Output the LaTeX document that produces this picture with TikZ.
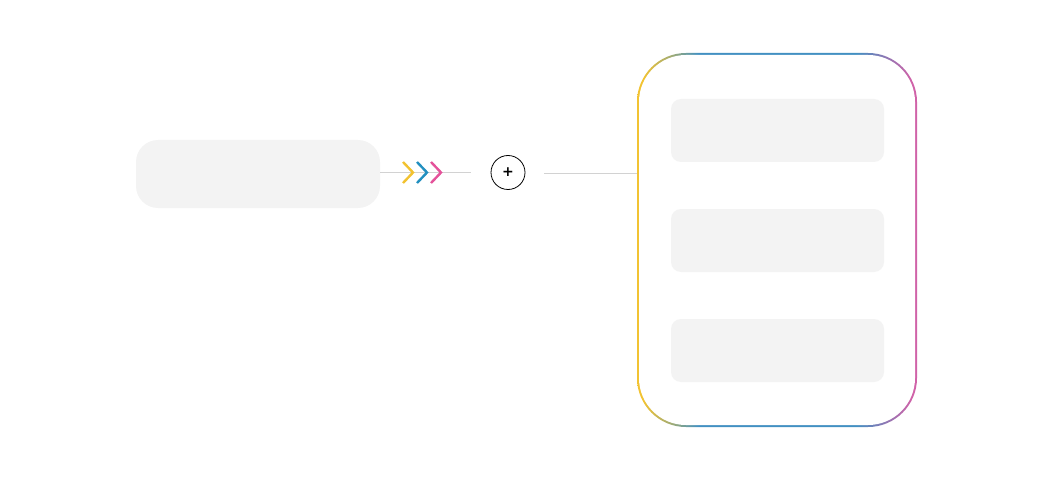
\documentclass[tikz,border=0pt]{standalone}
\usepackage{tikz}
\usepackage{fontspec}
\usetikzlibrary{arrows.meta,positioning,calc}
\newfontfamily\plusfont{DejaVu Sans}
\definecolor{chyellow}{HTML}{F2C230}
\definecolor{chblue}{HTML}{2390C0}
\definecolor{chpink}{HTML}{E4529A}
\definecolor{frameyellow}{HTML}{F2C332}
\definecolor{frameblue}{HTML}{4290C2}
\definecolor{framepink}{HTML}{D062A8}
\definecolor{slotgray}{HTML}{F3F3F3}
\definecolor{linegray}{HTML}{D2D2D2}
\pgfdeclarehorizontalshading{borderfade}{100bp}{color(0bp)=(frameyellow); color(26bp)=(frameyellow); color(31bp)=(frameyellow!55!frameblue); color(36bp)=(frameblue); color(64bp)=(frameblue); color(69bp)=(frameblue!50!framepink); color(74bp)=(framepink); color(100bp)=(framepink)}

\begin{document}
\begin{tikzpicture}[
  x=1pt, y=-1pt,
  pill/.style={fill=slotgray, rounded corners=22pt, minimum width=244pt, minimum height=68pt, inner sep=0pt},
  slot/.style={fill=slotgray, rounded corners=10pt, minimum width=213pt, minimum height=63pt, inner sep=0pt},
  link/.style={draw=linegray, line width=0.8pt},
  chevron/.style={line width=2.4pt, miter limit=4},
  >=Stealth
]
  \useasboundingbox (0,0) rectangle (1054,481);

  \node[pill] (source) at (258,174) {};

  % thin connector behind the chevrons
  \coordinate (flowend) at (471,172);
  \draw[link] (source.east |- flowend) -- (flowend);
  \draw[chevron, chyellow] (403,162) -- (413,172.5) -- (403,183);
  \draw[chevron, chblue] (417,162) -- (427,172.5) -- (417,183);
  \draw[chevron, chpink] (431,162) -- (441,172.5) -- (431,183);

  \node[draw, circle, line width=0.8pt, minimum size=34pt, inner sep=0pt, font=\plusfont\bfseries\fontsize{14}{14}\selectfont] (plus) at (508,172.5) {+};

  % gradient frame: shaded outer shape, white inner shape
  \node[shading=borderfade, rounded corners=49pt, minimum width=280pt, minimum height=374pt, inner sep=0pt] (panel) at (777,240) {};
  \node[fill=white, rounded corners=47pt, minimum width=276pt, minimum height=370pt, inner sep=0pt] (panelin) at (panel.center) {};

  \coordinate (joinstart) at (544,173);
  \draw[link] (joinstart) -- (panel.west |- joinstart);

  \node[slot] (slota) at (777.5,130.5) {};
  \node[slot] (slotb) at (777.5,240.5) {};
  \node[slot] (slotc) at (777.5,350.5) {};
\end{tikzpicture}
\end{document}
